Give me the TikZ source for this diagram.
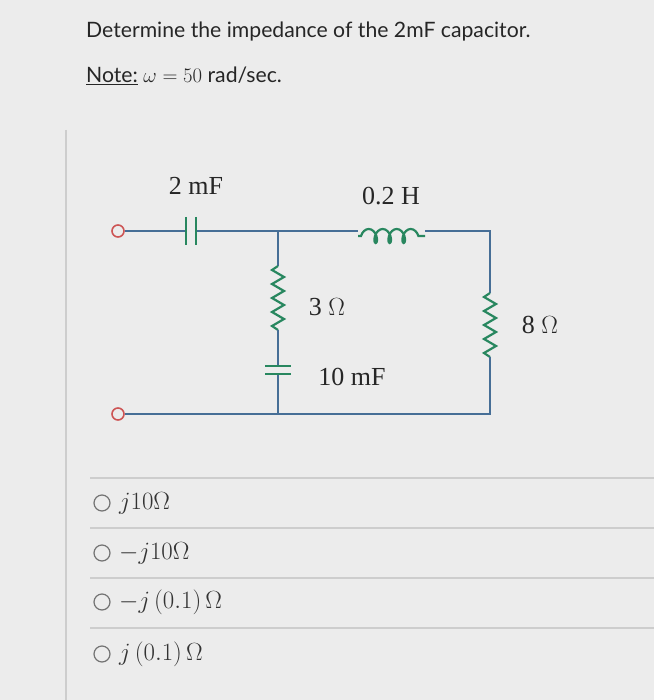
\documentclass[tikz,border=0pt]{standalone}
\usepackage{fontspec}
\setmainfont{Lato}
\newfontfamily\serifc{Liberation Serif}
\usetikzlibrary{decorations.pathmorphing}
\definecolor{wire}{RGB}{70,110,150}
\definecolor{comp}{RGB}{40,135,95}
\definecolor{term}{RGB}{205,85,85}
\definecolor{bg}{RGB}{236,236,236}
\definecolor{sep}{RGB}{205,205,205}
\tikzset{
 w/.style={draw=wire,line width=2.2pt},
 cp/.style={draw=comp,line width=2.2pt},
 termc/.style={circle,draw=term,line width=1.6pt,fill=bg,minimum size=12pt,inner sep=0pt},
 lab/.style={font=\serifc\fontsize{26}{26}\selectfont,text=black!85},
 opt/.style={circle,draw=black!55,line width=1.2pt,minimum size=16pt,inner sep=0pt},
 otext/.style={anchor=west,inner sep=0pt,font=\fontsize{23}{23}\selectfont,text=black!80},
}
\begin{document}
\begin{tikzpicture}[x=1pt,y=-1pt]
\useasboundingbox (0,0) rectangle (654,700);
\fill[bg] (0,0) rectangle (654,700);
\draw[sep,line width=1.2pt] (66,130) -- (66,700);
\node[anchor=west,inner sep=0pt,font=\fontsize{21.2}{21.2}\selectfont,text=black!85] (q) at (86,32) {Determine the impedance of the 2mF capacitor.};
\node[anchor=west,inner sep=0pt,font=\fontsize{21.2}{21.2}\selectfont,text=black!85] (note) at (86,76) {\underline{Note:} $\omega = 50$ rad/sec.};
% circuit
\node[termc] (t1) at (118,231) {};
\node[termc] (t2) at (118,414) {};
\coordinate (ca) at (186,231); \coordinate (cb) at (196,231);
\coordinate (j1) at (278,231); \coordinate (j2) at (278,414);
\coordinate (la) at (358,231); \coordinate (lb) at (425,231);
\coordinate (rt) at (490,231); \coordinate (rb) at (490,414);
\draw[w] (t1) -- (ca); \draw[w] (cb) -- (j1) -- (la);
\draw[cp] (ca)+(0,-14) -- +(0,14); \draw[cp] (cb)+(0,-14) -- +(0,14);
\draw[cp,decorate,decoration={coil,aspect=0.6,segment length=14pt,amplitude=7pt,pre length=3pt,post length=3pt}] ([yshift=-5]la) -- ([yshift=-5]lb);
\draw[w] (lb) -- (rt) -- (490,293);
\draw[cp] (490,293) -- (484,297) -- (496,304) -- (484,311) -- (496,318) -- (484,325) -- (496,332) -- (484,339) -- (496,346) -- (484,353) -- (490,357);
\draw[w] (490,357) -- (rb) -- (j2) -- (t2);
\draw[w] (j1) -- (278,266);
\draw[cp] (278,266) -- (272,270) -- (284,277) -- (272,284) -- (284,291) -- (272,298) -- (284,305) -- (272,312) -- (284,319) -- (272,326) -- (278,330);
\draw[w] (278,330) -- (278,366); \draw[w] (278,374) -- (j2);
\draw[cp] (265,366) -- (291,366); \draw[cp] (265,374) -- (291,374);
\node[lab] (l1) at (196,186) {2 mF};
\node[lab] (l2) at (391,196) {0.2 H};
\node[lab] (l3) at (327,307) {3 $\Omega$};
\node[lab] (l4) at (352,377) {10 mF};
\node[lab] (l5) at (540,325) {8 $\Omega$};
% options
\foreach \y in {478,528,578,628} \draw[sep,line width=1.1pt] (90,\y) -- (654,\y);
\node[opt] (o1) at (102,503) {}; \node[otext] (a1) at (119,503) {$j10\Omega$};
\node[opt] (o2) at (102,553) {}; \node[otext] (a2) at (119,553) {$-j10\Omega$};
\node[opt] (o3) at (102,602) {}; \node[otext] (a3) at (119,602) {$-j\,(0.1)\,\Omega$};
\node[opt] (o4) at (102,654) {}; \node[otext] (a4) at (119,654) {$j\,(0.1)\,\Omega$};
\end{tikzpicture}
\end{document}
